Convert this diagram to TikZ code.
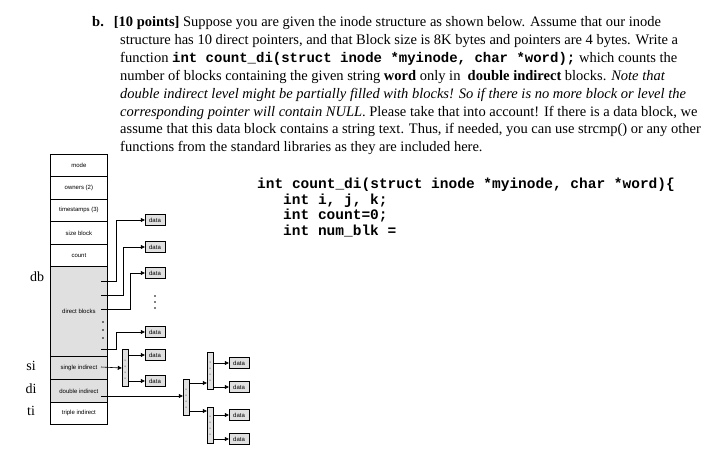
\documentclass[tikz,border=0pt]{standalone}
\usepackage{fontspec}
\setmainfont{Liberation Serif}
\setsansfont{Liberation Sans}
\setmonofont{Liberation Mono}
\usetikzlibrary{arrows.meta}
\begin{document}
\begin{tikzpicture}[x=1pt,y=-1pt,
  txt/.style={anchor=base west,inner sep=0pt,font=\fontsize{14.5}{17}\selectfont},
  code/.style={anchor=base west,inner sep=0pt,font=\fontsize{14.5}{16}\selectfont\ttfamily\bfseries},
  cell/.style={draw,thick,minimum width=57pt,anchor=north west,inner sep=0pt,font=\sffamily\fontsize{6}{7}\selectfont},
  datab/.style={draw,fill=black!12,minimum width=20pt,minimum height=11pt,inner sep=0pt,font=\sffamily\fontsize{6}{7}\selectfont},
  ptr/.style={draw,fill=black!12,minimum width=6pt,inner sep=0pt},
  arr/.style={-{Triangle[length=4pt,width=4pt]},semithick},
  side/.style={anchor=center,inner sep=0pt,font=\fontsize{14}{16}\selectfont}]
\useasboundingbox (0,0) rectangle (720,468);
% text
\node[txt] (l1) at (92,27) {\textbf{b.}\hspace{10pt}\textbf{[10 points]} Suppose you are given the inode structure as shown below. Assume that our inode};
\node[txt] (l2) at (120,45) {structure has 10 direct pointers, and that Block size is 8K bytes and pointers are 4 bytes. Write a};
\node[txt] (l3) at (120,63) {function {\ttfamily\bfseries\fontsize{14}{15}\selectfont int count\_di(struct inode *myinode, char *word);} which counts the};
\node[txt] (l4) at (120,81) {number of blocks containing the given string \textbf{word} only in\ \ \textbf{double indirect} blocks. \textit{Note that}};
\node[txt] (l5) at (120,99) {\textit{double indirect level might be partially filled with blocks! So if there is no more block or level the}};
\node[txt] (l6) at (120,117) {\textit{corresponding pointer will contain NULL}. Please take that into account! If there is a data block, we};
\node[txt] (l7) at (120,134) {assume that this data block contains a string text. Thus, if needed, you can use strcmp() or any other};
\node[txt] (l8) at (120,152) {functions from the standard libraries as they are included here.};
% code
\node[code] (c1) at (257,188) {int count\_di(struct inode *myinode, char *word)\{};
\node[code] (c2) at (283,204) {int i, j, k;};
\node[code] (c3) at (283,219) {int count=0;};
\node[code] (c4) at (283,235) {int num\_blk =};
% inode
\node[cell,minimum height=22pt] (mode) at (50,154) {mode};
\node[cell,minimum height=23pt] (own) at (50,176) {owners (2)};
\node[cell,minimum height=22pt] (ts) at (50,199) {timestamps (3)};
\node[cell,minimum height=23pt] (sb) at (50,221) {size block};
\node[cell,minimum height=22pt] (cnt) at (50,244) {count};
\node[cell,minimum height=90pt,fill=black!12] (db) at (50,266) {direct blocks};
\node[cell,minimum height=23pt,fill=black!12] (si) at (50,356) {single indirect};
\node[cell,minimum height=23pt,fill=black!12] (di) at (50,379) {double indirect};
\node[cell,minimum height=22pt] (ti) at (50,402) {triple indirect};
% side labels
\node[side] (ldb) at (37,277) {db};
\node[side] (lsi) at (31,366) {si};
\node[side] (ldi) at (31,389) {di};
\node[side] (lti) at (31,411) {ti};
% data blocks
\node[datab] (d1) at (155,220) {data};
\node[datab] (d2) at (155,247) {data};
\node[datab] (d3) at (155,273) {data};
\node[datab] (d4) at (155,332) {data};
\node[datab] (d5) at (155,355) {data};
\node[datab] (d6) at (155,381) {data};
\node[datab] (e1) at (239,363) {data};
\node[datab] (e2) at (239,387) {data};
\node[datab] (e3) at (239,415) {data};
\node[datab] (e4) at (239,439) {data};
% pointer blocks
\node[ptr,minimum height=37pt] (p1) at (125,368) {};
\node[ptr,minimum height=36pt] (p2) at (186,397) {};
\node[ptr,minimum height=37pt] (p3) at (210,371) {};
\node[ptr,minimum height=36pt] (p4) at (210,425) {};
% dots
\foreach \y in {296,302,308} \fill (155,\y) circle (0.8pt);
\foreach \y in {322,330,338} \fill (103,\y) circle (0.8pt);
\foreach \y in {360,366,372,378} \fill (125,\y) circle (0.5pt);
\foreach \y in {389,395,401,407} \fill (186,\y) circle (0.5pt);
\foreach \y in {362,368,374,380} \fill (210,\y) circle (0.5pt);
\foreach \y in {416,422,428,434} \fill (210,\y) circle (0.5pt);
% coordinates
\coordinate (s1) at (101,281);
\coordinate (s2) at (101,295);
\coordinate (s3) at (101,309);
\coordinate (s4) at (101,349);
\coordinate (s5) at (101,367);
\coordinate (s6) at (101,396);
\coordinate (q3) at (189,383);
\coordinate (q4) at (189,411);
% arrows
\draw[arr] (s1) -| (116,220) -- (d1.west);
\draw[arr] (s2) -| (123,247) -- (d2.west);
\draw[arr] (s3) -| (130,273) -- (d3.west);
\draw[arr] (s4) -| (116,332) -- (d4.west);
\draw[arr] (s5) -- (p1.west);
\draw[arr] (p1.east |- d5) -- (d5.west);
\draw[arr] (p1.east |- d6) -- (d6.west);
\draw[arr] (s6) -- (s6 -| p2.west);
\draw[arr] (q3) -- (q3 -| p3.west);
\draw[arr] (q4) -- (q4 -| p4.west);
\draw[arr] (p3.east |- e1) -- (e1.west);
\draw[arr] (p3.east |- e2) -- (e2.west);
\draw[arr] (p4.east |- e3) -- (e3.west);
\draw[arr] (p4.east |- e4) -- (e4.west);
\end{tikzpicture}
\end{document}
